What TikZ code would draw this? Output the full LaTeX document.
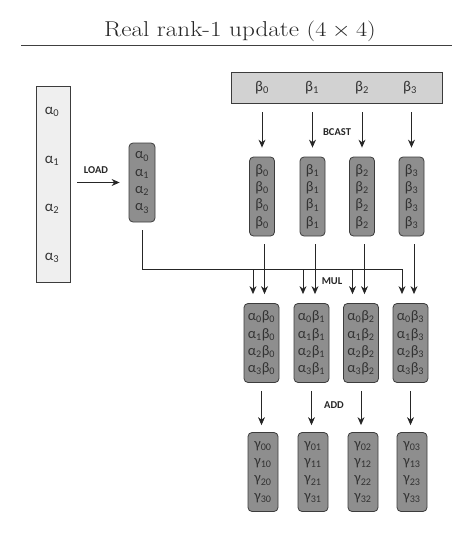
\documentclass[tikz,border=0pt]{standalone}
\usepackage{fontspec}
\newfontfamily\carl{Carlito}
\usetikzlibrary{arrows.meta}
\definecolor{boxgray}{HTML}{8E8E8E}
\definecolor{barfill}{HTML}{D2D2D2}
\definecolor{leftfill}{HTML}{EFEFEF}
\definecolor{edge}{HTML}{3C3C3C}
\definecolor{txt}{HTML}{333333}
\newcommand\lsub[1]{\textsubscript{#1}}
\begin{document}
\begin{tikzpicture}[x=1pt,y=-1pt,
  arr/.style={-{Stealth[length=8pt,width=7pt]}, line width=0.9pt, draw=black!85},
  wire/.style={line width=0.9pt, draw=black!85},
  rbox/.style={draw=edge, fill=boxgray, rounded corners=4pt, line width=0.8pt,
    align=center, inner sep=0pt, text=txt, minimum height=79pt,
    font=\carl\fontsize{14.5}{17.3}\selectfont},
  opl/.style={font=\carl\bfseries\fontsize{10.5}{12}\selectfont, text=black!85, inner sep=0pt},
  glab/.style={font=\carl\fontsize{15}{17}\selectfont, text=txt, inner sep=0pt}
]
\useasboundingbox (0,0) rectangle (452,551);
% title
\node[anchor=base, font=\fontsize{21.5}{24}\selectfont, text=black!85, inner sep=0pt] (title) at (240,37) {\scalebox{1.17}[1]{Real rank-1 update $(4\times 4)$}};
\coordinate (rl) at (21,45);
\coordinate (rr) at (452,45);
\draw[line width=0.9pt, draw=black!75] (rl) -- (rr);
% left memory column
\node[draw=edge, fill=leftfill, line width=0.8pt, minimum width=34pt, minimum height=196pt, inner sep=0pt] (A) at (53,184) {};
\node[glab] (A0) at (52,112) {α\lsub{0}};
\node[glab] (A1) at (52,161) {α\lsub{1}};
\node[glab] (A2) at (52,209) {α\lsub{2}};
\node[glab] (A3) at (52,258) {α\lsub{3}};
% alpha register
\node[rbox, minimum width=26pt] (a) at (142,182.5) {α\lsub{0}\\α\lsub{1}\\α\lsub{2}\\α\lsub{3}};
\draw[arr, shorten <=7pt, shorten >=9pt] (A.east |- a.west) -- (a.west);
\node[opl] (load) at (96,170) {LOAD};
% beta bar
\node[draw=edge, fill=barfill, line width=0.8pt, minimum width=211pt, minimum height=31pt, inner sep=0pt] (B) at (336.5,87.5) {};
\node[glab] (B0) at (262,88) {β\lsub{0}};
\node[glab] (B1) at (312,88) {β\lsub{1}};
\node[glab] (B2) at (362,88) {β\lsub{2}};
\node[glab] (B3) at (410,88) {β\lsub{3}};
% broadcast registers
\node[rbox, minimum width=25pt] (b0) at (262,196.5) {β\lsub{0}\\β\lsub{0}\\β\lsub{0}\\β\lsub{0}};
\node[rbox, minimum width=25pt] (b1) at (312.5,196.5) {β\lsub{1}\\β\lsub{1}\\β\lsub{1}\\β\lsub{1}};
\node[rbox, minimum width=25pt] (b2) at (362,196.5) {β\lsub{2}\\β\lsub{2}\\β\lsub{2}\\β\lsub{2}};
\node[rbox, minimum width=25pt] (b3) at (411.5,196.5) {β\lsub{3}\\β\lsub{3}\\β\lsub{3}\\β\lsub{3}};
\foreach \i in {0,1,2,3}{
  \draw[arr, shorten <=9pt, shorten >=9pt] (B.south -| b\i) -- (b\i.north);
}
\node[opl] (bcast) at (337,132) {BCAST};
% product registers
\node[rbox, minimum width=35pt] (p0) at (261.5,343) {α\lsub{0}β\lsub{0}\\α\lsub{1}β\lsub{0}\\α\lsub{2}β\lsub{0}\\α\lsub{3}β\lsub{0}};
\node[rbox, minimum width=35pt] (p1) at (311.5,343) {α\lsub{0}β\lsub{1}\\α\lsub{1}β\lsub{1}\\α\lsub{2}β\lsub{1}\\α\lsub{3}β\lsub{1}};
\node[rbox, minimum width=35pt] (p2) at (361,343) {α\lsub{0}β\lsub{2}\\α\lsub{1}β\lsub{2}\\α\lsub{2}β\lsub{2}\\α\lsub{3}β\lsub{2}};
\node[rbox, minimum width=35pt] (p3) at (410.5,343) {α\lsub{0}β\lsub{3}\\α\lsub{1}β\lsub{3}\\α\lsub{2}β\lsub{3}\\α\lsub{3}β\lsub{3}};
% beta -> product
\foreach \i in {0,1,2,3}{
  \draw[arr, shorten <=8pt, shorten >=9pt] ([xshift=2.5pt]b\i.south) -- ([xshift=2.5pt]b\i.south |- p\i.north);
}
% alpha bus
\coordinate (bus) at (0,269);
\draw[arr, shorten <=8pt, shorten >=9pt] (a.south) |- ([xshift=-8.5pt]p3.north |- bus) -- ([xshift=-8.5pt]p3.north);
\foreach \i in {0,1,2}{
  \draw[arr, shorten >=9pt] ([xshift=-8.5pt]p\i.north |- bus) -- ([xshift=-8.5pt]p\i.north);
}
\node[opl] (mul) at (332,281) {MUL};
% result registers
\node[rbox, minimum width=30pt] (g0) at (263,472) {γ\lsub{00}\\γ\lsub{10}\\γ\lsub{20}\\γ\lsub{30}};
\node[rbox, minimum width=30pt] (g1) at (313,472) {γ\lsub{01}\\γ\lsub{11}\\γ\lsub{21}\\γ\lsub{31}};
\node[rbox, minimum width=30pt] (g2) at (363,472) {γ\lsub{02}\\γ\lsub{12}\\γ\lsub{22}\\γ\lsub{32}};
\node[rbox, minimum width=30pt] (g3) at (412,472) {γ\lsub{03}\\γ\lsub{13}\\γ\lsub{23}\\γ\lsub{33}};
\foreach \i in {0,1,2,3}{
  \draw[arr, shorten <=8pt, shorten >=7pt] (p\i.south) -- (p\i.south |- g\i.north);
}
\node[opl] (add) at (334,405) {ADD};
\end{tikzpicture}
\end{document}
